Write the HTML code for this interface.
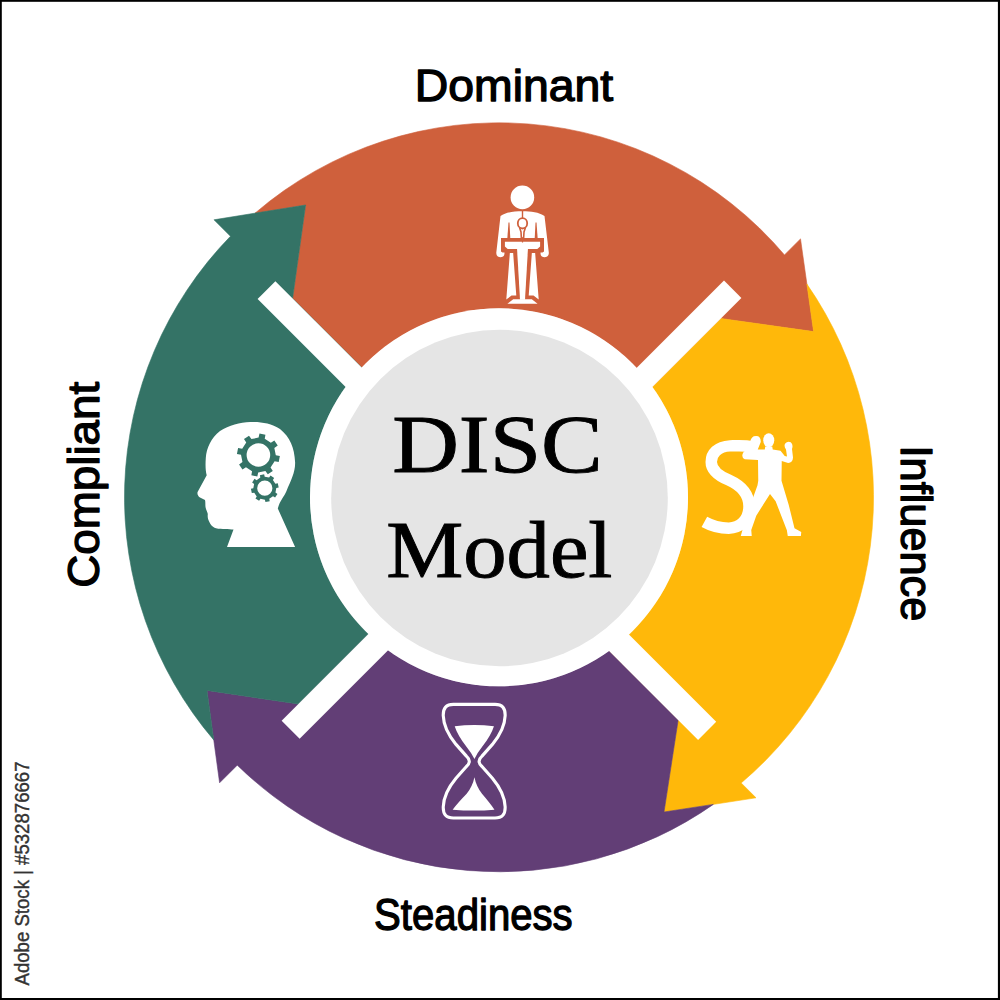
<!DOCTYPE html>
<html>
<head>
<meta charset="utf-8">
<style>
html,body{margin:0;padding:0;background:#fff;}
body{width:1000px;height:1000px;overflow:hidden;position:relative;}
svg{position:absolute;left:0;top:0;display:block;}
</style>
</head>
<body>
<svg width="1000" height="1000" viewBox="0 0 1000 1000">
<rect x="0" y="0" width="1000" height="1000" fill="#fff"/>

<!-- ring sectors -->
<path fill="#CF603C" stroke="#CF603C" stroke-width="0.6" stroke-linejoin="miter" d="M361.66,367.46 L292.60,298.40 L305.60,205.00 L255.03,213.17 A374.5,374.5 0 0 1 784.48,254.92 L800.50,238.90 L813.60,331.60 L720.90,318.50 L652.44,386.96 A189.0,189.0 0 0 0 361.66,367.46 Z"/>
<path fill="#FFB80A" stroke="#FFB80A" stroke-width="0.6" stroke-linejoin="miter" d="M652.44,386.96 L720.90,318.50 L813.60,331.60 L806.89,284.10 A374.5,374.5 0 0 1 741.17,782.97 L756.00,797.80 L664.00,812.00 L678.16,719.96 L609.11,650.91 A189.0,189.0 0 0 0 652.44,386.96 Z"/>
<path fill="#623E76" stroke="#623E76" stroke-width="0.6" stroke-linejoin="miter" d="M609.11,650.91 L678.16,719.96 L664.00,812.00 L713.36,804.38 A374.5,374.5 0 0 1 237.26,765.14 L219.60,782.80 L207.00,690.40 L298.35,704.05 L368.44,633.96 A189.0,189.0 0 0 0 609.11,650.91 Z"/>
<path fill="#347366" stroke="#347366" stroke-width="0.6" stroke-linejoin="miter" d="M368.44,633.96 L298.35,704.05 L207.00,690.40 L213.76,739.97 A374.5,374.5 0 0 1 230.47,236.27 L214.00,219.80 L305.60,205.00 L292.60,298.40 L361.66,367.46 A189.0,189.0 0 0 0 368.44,633.96 Z"/>

<!-- white bars -->
<polygon fill="#fff" points="275.4,281.2 257.6,299.0 487.6,529.0 505.4,511.2"/>
<polygon fill="#fff" points="724,280.6 741.4,298 511.4,528 494,510.6"/>
<polygon fill="#fff" points="716.2,721.8 698.1,739.9 498.1,539.9 516.2,521.8"/>
<polygon fill="#fff" points="281.65,720.75 299.65,738.75 499.65,538.75 481.65,520.75"/>
<circle cx="499" cy="497.3" r="189" fill="#fff"/>
<circle cx="499.5" cy="498" r="168.3" fill="#E5E5E5"/>

<!-- speaker icon -->
<g id="speaker">
<circle cx="522.4" cy="197.4" r="11.8" fill="#fff"/>
<path fill="#fff" d="M500.5,216 C506,212.3 514,211.3 522.5,211.3 C531,211.3 539,212.3 544.5,216 L548.8,252.6 C549.2,258.6 540.6,258.6 540.4,253.5 L540.4,251 L504.6,251 L504.6,253.5 C504.4,258.6 495.8,258.6 496.3,252.6 Z"/>
<!-- arm lines -->
<path fill="#CF603C" d="M507.3,238.5 L508.5,222.6 L509.5,222.6 L510.3,238.5 Z"/>
<path fill="#CF603C" d="M534.7,238.5 L535.5,222.6 L536.5,222.6 L537.7,238.5 Z"/>
<!-- mic -->
<rect x="521.8" y="211" width="1.4" height="7" fill="#CF603C"/>
<ellipse cx="522.5" cy="223.3" rx="4.7" ry="5.2" fill="none" stroke="#CF603C" stroke-width="1.8"/>
<path fill="none" stroke="#CF603C" stroke-width="1.6" d="M519.6,227.8 L521,232 L521.4,238.5 M525.4,227.8 L524,232 L523.6,238.5"/>
<rect x="522.1" y="237" width="0.8" height="5" fill="#CF603C"/>
<!-- podium band -->
<path fill="#CF603C" d="M501,238 L544,238 L544,251.5 L542.5,252.5 L540.2,252.5 L540.2,259 L504.8,259 L504.8,252.5 L502.5,252.5 L501,251.5 Z"/>
<path fill="#fff" d="M504.9,241.8 L540.1,241.8 L540.1,246.5 L539,247.6 L537.3,249 L507.7,249 L506,247.6 L504.9,246.5 Z"/>
<rect x="521.9" y="241" width="1.2" height="1.5" fill="#CF603C"/>
<!-- column -->
<path fill="#fff" d="M517,248 L528,248 L525,299.8 L520,299.8 Z"/>
<!-- legs -->
<path fill="#fff" d="M509.85,253 L513.15,253 L516.3,295.6 L511.5,295.6 L506.3,299.4 Z"/>
<path fill="#fff" d="M535.15,253 L531.85,253 L528.7,295.6 L533.5,295.6 L538.7,299.4 Z"/>
<!-- base -->
<path fill="#fff" d="M513.2,299.2 L531.8,299.2 L537.6,303.8 L507.4,303.8 Z"/>
</g>

<!-- influence icon -->
<g transform="translate(695,420) scale(0.125)">
<path fill="none" stroke="#fff" stroke-width="92" d="M455,215 C400,200 340,205 280,207 C180,212 130,270 130,335 C130,410 200,450 270,480 C370,525 432,590 432,690 C432,800 360,865 270,865 C190,865 120,840 75,815"/>
<ellipse cx="590" cy="162" rx="44" ry="56" fill="#fff"/>
<path fill="#fff" d="M562,212 L618,212 L622,236 L684,246 L718,288 L736,292 L728,236 Q710,214 720,190 Q740,166 766,178 Q788,196 776,232 L784,300 Q782,342 745,344 L694,328 L692,485 L750,680 L796,865 L850,895 L847,928 L742,928 L735,882 L645,650 L600,592 L490,765 L450,880 L454,928 L366,928 L378,885 L413,765 L500,522 L506,485 L504,320 L398,314 Q366,296 386,260 L446,205 Q430,158 470,130 Q528,116 526,176 L502,236 L558,236 Z"/>
</g>

<!-- head icon -->
<path fill="#fff" d="M227,547 L295.1,547 L277.8,508.6 C280,500 284,497 286.4,491.2 C291,480 295.5,472 295.1,462 C294.5,448 290,437 280,429 C271,423 260,421.5 250.2,422 C240,422.5 229,425 220,431 C211,438 206.5,448 205.8,458 C205.3,465 205.5,471 206.7,475.2 L197.6,492 C197,494 198,496 200,497.5 L205,499.9 C205.6,502 205.2,504.5 205.5,507 C206,510 207.5,512 207.8,514 C207.5,516.5 207.8,519 208.9,521 C210.5,524.5 212,527 216,528.2 C222,529.5 229,529 233.5,529.5 Z"/>
<path fill="#347366" fill-rule="evenodd" d="M258.60,437.60 L259.49,433.53 L265.44,434.68 L264.73,438.79 L270.84,442.84 L274.35,440.59 L277.74,445.61 L274.34,448.02 L275.80,455.20 L279.87,456.09 L278.72,462.04 L274.61,461.33 L270.56,467.44 L272.81,470.95 L267.79,474.34 L265.38,470.94 L258.20,472.40 L257.31,476.47 L251.36,475.32 L252.07,471.21 L245.96,467.16 L242.45,469.41 L239.06,464.39 L242.46,461.98 L241.00,454.80 L236.93,453.91 L238.08,447.96 L242.19,448.67 L246.24,442.56 L243.99,439.05 L249.01,435.66 L251.42,439.06 Z M270.20,455.00 A11.80,11.80 0 1,0 246.60,455.00 A11.80,11.80 0 1,0 270.20,455.00 Z"/>
<path fill="#347366" fill-rule="evenodd" d="M260.32,477.61 L259.89,475.20 L264.15,474.32 L264.71,476.70 L269.12,477.54 L270.52,475.53 L274.15,477.92 L272.87,480.00 L275.39,483.72 L277.80,483.29 L278.68,487.55 L276.30,488.11 L275.46,492.52 L277.47,493.92 L275.08,497.55 L273.00,496.27 L269.28,498.79 L269.71,501.20 L265.45,502.08 L264.89,499.70 L260.48,498.86 L259.08,500.87 L255.45,498.48 L256.73,496.40 L254.21,492.68 L251.80,493.11 L250.92,488.85 L253.30,488.29 L254.14,483.88 L252.13,482.48 L254.52,478.85 L256.60,480.13 Z M272.40,488.20 A7.60,7.60 0 1,0 257.20,488.20 A7.60,7.60 0 1,0 272.40,488.20 Z"/>

<!-- hourglass -->
<g transform="translate(430,695) scale(0.13)">
<path fill="none" stroke="#fff" stroke-width="24" stroke-linejoin="round" d="M180,72 L500,72 C555,72 580,100 578,160 C575,250 530,320 480,380 L400,470 Q355,510 400,550 L480,640 C530,700 575,770 578,860 C580,920 555,946 500,946 L180,946 C125,946 100,920 102,860 C105,770 150,700 200,640 L280,550 Q325,510 280,470 L200,380 C150,320 105,250 102,160 C100,100 125,72 180,72 Z"/>
<path fill="#fff" d="M190,240 Q340,222 492,240 Q470,310 400,400 Q360,450 342,492 Q322,450 282,400 Q212,310 190,240 Z"/>
<path fill="#fff" d="M342,632 Q355,700 400,760 Q460,830 496,882 Q340,896 174,882 Q214,830 282,760 Q328,700 342,632 Z"/>
</g>

<!-- center text -->
<text style="font-variant-ligatures:none" x="497.4" y="472.2" font-family="'Liberation Serif', serif" font-size="83" text-anchor="middle" textLength="210.5" lengthAdjust="spacingAndGlyphs" fill="#000" stroke="#000" stroke-width="0.9">DISC</text>
<text style="font-variant-ligatures:none" x="499.3" y="576.6" font-family="'Liberation Serif', serif" font-size="79.5" text-anchor="middle" textLength="226.3" lengthAdjust="spacingAndGlyphs" fill="#000" stroke="#000" stroke-width="0.9">Model</text>

<!-- labels -->
<text style="font-variant-ligatures:none" x="514" y="100.6" font-family="'Liberation Sans', sans-serif" font-size="44" stroke="#000" stroke-width="1.3" stroke-linejoin="round" text-anchor="middle" textLength="198.4" lengthAdjust="spacingAndGlyphs" fill="#000">Dominant</text>
<text style="font-variant-ligatures:none" x="473.4" y="930.4" font-family="'Liberation Sans', sans-serif" font-size="44" stroke="#000" stroke-width="1.3" stroke-linejoin="round" text-anchor="middle" textLength="198.6" lengthAdjust="spacingAndGlyphs" fill="#000">Steadiness</text>
<text style="font-variant-ligatures:none" transform="translate(99.2,484.8) rotate(-90)" font-family="'Liberation Sans', sans-serif" font-size="44" stroke="#000" stroke-width="1.3" stroke-linejoin="round" text-anchor="middle" textLength="206" lengthAdjust="spacingAndGlyphs" fill="#000">Compliant</text>
<text style="font-variant-ligatures:none" transform="translate(900.9,533.4) rotate(90)" font-family="'Liberation Sans', sans-serif" font-size="44" stroke="#000" stroke-width="1.3" stroke-linejoin="round" text-anchor="middle" textLength="175.7" lengthAdjust="spacingAndGlyphs" fill="#000">Influence</text>

<text style="font-variant-ligatures:none" transform="translate(29,873.5) rotate(-90)" font-family="'Liberation Sans', sans-serif" font-size="19.5" text-anchor="middle" textLength="224" lengthAdjust="spacingAndGlyphs" fill="#333" stroke="#333" stroke-width="0.4">Adobe Stock | #532876667</text>

<!-- border -->
<rect x="0" y="0" width="1000" height="1.8" fill="#000"/>
<rect x="0" y="0" width="1.8" height="1000" fill="#000"/>
<rect x="997.9" y="0" width="2.1" height="1000" fill="#000"/>
<rect x="0" y="998" width="1000" height="2" fill="#000"/>
</svg>
</body>
</html>
